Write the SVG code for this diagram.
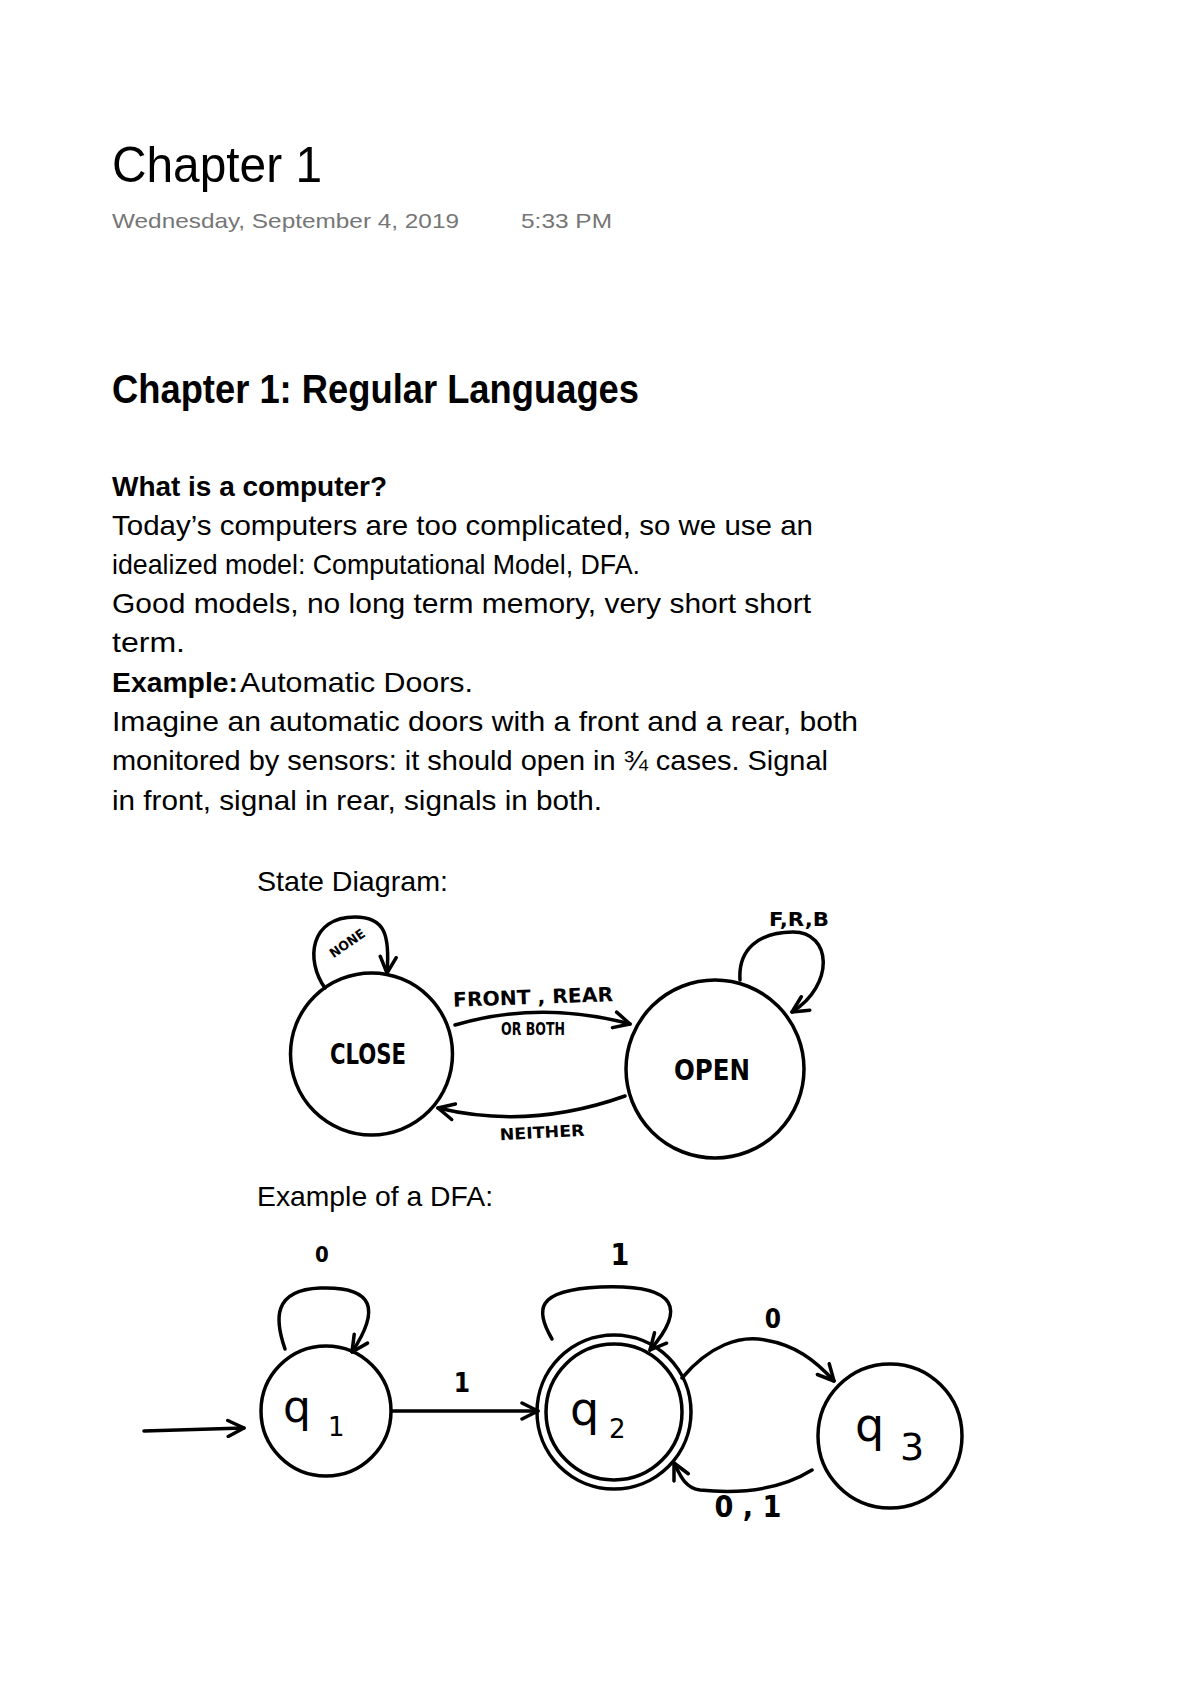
<svg xmlns="http://www.w3.org/2000/svg" width="1200" height="1698" viewBox="0 0 1200 1698">
<style>
.t{font-family:"Liberation Sans",Arial,sans-serif;fill:#000}
.b{font-size:28px}
.bd{font-weight:bold}
.hw{font-family:"DejaVu Sans Condensed","DejaVu Sans",sans-serif;fill:#000;font-weight:bold}
.q{font-family:"DejaVu Sans","Liberation Sans",sans-serif;fill:#000}
.st{fill:none;stroke:#000;stroke-width:3.5;stroke-linecap:round;stroke-linejoin:round}
</style>
<defs>
<marker id="arr" viewBox="0 0 20 20" refX="18" refY="10" markerWidth="20" markerHeight="20" markerUnits="userSpaceOnUse" orient="auto">
<path d="M2,2 L18,10 L2,18" fill="none" stroke="#000" stroke-width="3.5" stroke-linecap="round" stroke-linejoin="round"/>
</marker>
</defs>
<rect width="1200" height="1698" fill="#fff"/>
<g id="header">
<text class="t" x="112" y="182" font-size="50" textLength="210" lengthAdjust="spacingAndGlyphs">Chapter 1</text>
<text class="t" x="112" y="228" font-size="21" style="fill:#767676" textLength="347" lengthAdjust="spacingAndGlyphs">Wednesday, September 4, 2019</text>
<text class="t" x="521" y="228" font-size="21" style="fill:#767676" textLength="91" lengthAdjust="spacingAndGlyphs">5:33 PM</text>
</g>
<g id="body">
<text class="t bd" x="112" y="403" font-size="40" textLength="527" lengthAdjust="spacingAndGlyphs">Chapter 1: Regular Languages</text>
<text class="t b bd" x="112" y="496" textLength="275" lengthAdjust="spacingAndGlyphs">What is a computer?</text>
<text class="t b" x="112" y="535" textLength="701" lengthAdjust="spacingAndGlyphs">Today’s computers are too complicated, so we use an</text>
<text class="t b" x="112" y="574" textLength="528" lengthAdjust="spacingAndGlyphs">idealized model: Computational Model, DFA.</text>
<text class="t b" x="112" y="613" textLength="699" lengthAdjust="spacingAndGlyphs">Good models, no long term memory, very short short</text>
<text class="t b" x="112" y="652" textLength="73" lengthAdjust="spacingAndGlyphs">term.</text>
<text class="t b bd" x="112" y="692" textLength="126" lengthAdjust="spacingAndGlyphs">Example:</text>
<text class="t b" x="240" y="692" textLength="233" lengthAdjust="spacingAndGlyphs">Automatic Doors.</text>
<text class="t b" x="112" y="731" textLength="746" lengthAdjust="spacingAndGlyphs">Imagine an automatic doors with a front and a rear, both</text>
<text class="t b" x="112" y="770" textLength="716" lengthAdjust="spacingAndGlyphs">monitored by sensors: it should open in ¾ cases. Signal</text>
<text class="t b" x="112" y="810" textLength="490" lengthAdjust="spacingAndGlyphs">in front, signal in rear, signals in both.</text>
<text class="t b" x="257" y="891" textLength="191" lengthAdjust="spacingAndGlyphs">State Diagram:</text>
<text class="t b" x="257" y="1206" textLength="236" lengthAdjust="spacingAndGlyphs">Example of a DFA:</text>
</g>
<g id="connectors">
<path class="st" d="M325,988 C305,960 310,917 355,917 C385,917 390,935 387,973" marker-end="url(#arr)"/>
<path class="st" d="M455,1025 Q540,1000 630,1024" marker-end="url(#arr)"/>
<path class="st" d="M625,1096 Q530,1130 438,1108" marker-end="url(#arr)"/>
<path class="st" d="M740,980 C738,950 758,932 793,932 C832,932 835,985 792,1012" marker-end="url(#arr)"/>
<path class="st" d="M144,1431 L244,1428" marker-end="url(#arr)"/>
<path class="st" d="M392,1411 L538,1411" marker-end="url(#arr)"/>
<path class="st" d="M285,1349 C275,1320 272,1290 320,1288 C375,1286 380,1310 352,1352" marker-end="url(#arr)"/>
<path class="st" d="M552,1339 C535,1310 535,1290 600,1287 C680,1284 685,1310 650,1350" marker-end="url(#arr)"/>
<path class="st" d="M682,1378 C710,1345 740,1335 765,1340 C795,1345 815,1360 834,1381" marker-end="url(#arr)"/>
<path class="st" d="M812,1470 C780,1490 740,1494 700,1490 C685,1488 680,1475 674,1463" marker-end="url(#arr)"/>
<text class="hw" x="347" y="948" font-size="13" text-anchor="middle" textLength="40" lengthAdjust="spacingAndGlyphs" transform="rotate(-35 347 943)">NONE</text>
<text class="hw" x="533" y="1004" font-size="20" text-anchor="middle" textLength="160" lengthAdjust="spacingAndGlyphs" transform="rotate(-2 533 996)">FRONT , REAR</text>
<text class="hw" x="533" y="1035" font-size="17" text-anchor="middle" textLength="64" lengthAdjust="spacingAndGlyphs">OR BOTH</text>
<text class="hw" x="542" y="1138" font-size="16" text-anchor="middle" textLength="85" lengthAdjust="spacingAndGlyphs" transform="rotate(-3 542 1131)">NEITHER</text>
<text class="hw" x="799" y="926" font-size="19" text-anchor="middle" textLength="60" lengthAdjust="spacingAndGlyphs">F,R,B</text>
<text class="hw" x="322" y="1262" font-size="22" text-anchor="middle">0</text>
<text class="hw" x="462" y="1392" font-size="26" text-anchor="middle">1</text>
<text class="hw" x="620" y="1265" font-size="30" text-anchor="middle">1</text>
<text class="hw" x="773" y="1328" font-size="26" text-anchor="middle">0</text>
<text class="hw" x="748" y="1517" font-size="30" text-anchor="middle" textLength="67" lengthAdjust="spacingAndGlyphs">0 , 1</text>
</g>
<g id="node-close">
<circle class="st" cx="371.5" cy="1054" r="81"/>
<text class="hw" x="368" y="1064" font-size="28" text-anchor="middle" textLength="76" lengthAdjust="spacingAndGlyphs">CLOSE</text>
</g>
<g id="node-open">
<circle class="st" cx="715" cy="1069" r="89"/>
<text class="hw" x="712" y="1080" font-size="28" text-anchor="middle" textLength="76" lengthAdjust="spacingAndGlyphs">OPEN</text>
</g>
<g id="node-q1">
<circle class="st" cx="326" cy="1411" r="65"/>
<text class="q" x="283" y="1422" font-size="44">q</text>
<text class="q" x="328" y="1436" font-size="26">1</text>
</g>
<g id="node-q2">
<circle class="st" cx="614" cy="1412" r="77"/>
<circle class="st" cx="614" cy="1412" r="68"/>
<text class="q" x="570" y="1425" font-size="46">q</text>
<text class="q" x="609" y="1438" font-size="26">2</text>
</g>
<g id="node-q3">
<circle class="st" cx="890" cy="1436" r="72"/>
<text class="q" x="855" y="1441" font-size="46">q</text>
<text class="q" x="900" y="1460" font-size="38">3</text>
</g>
</svg>
